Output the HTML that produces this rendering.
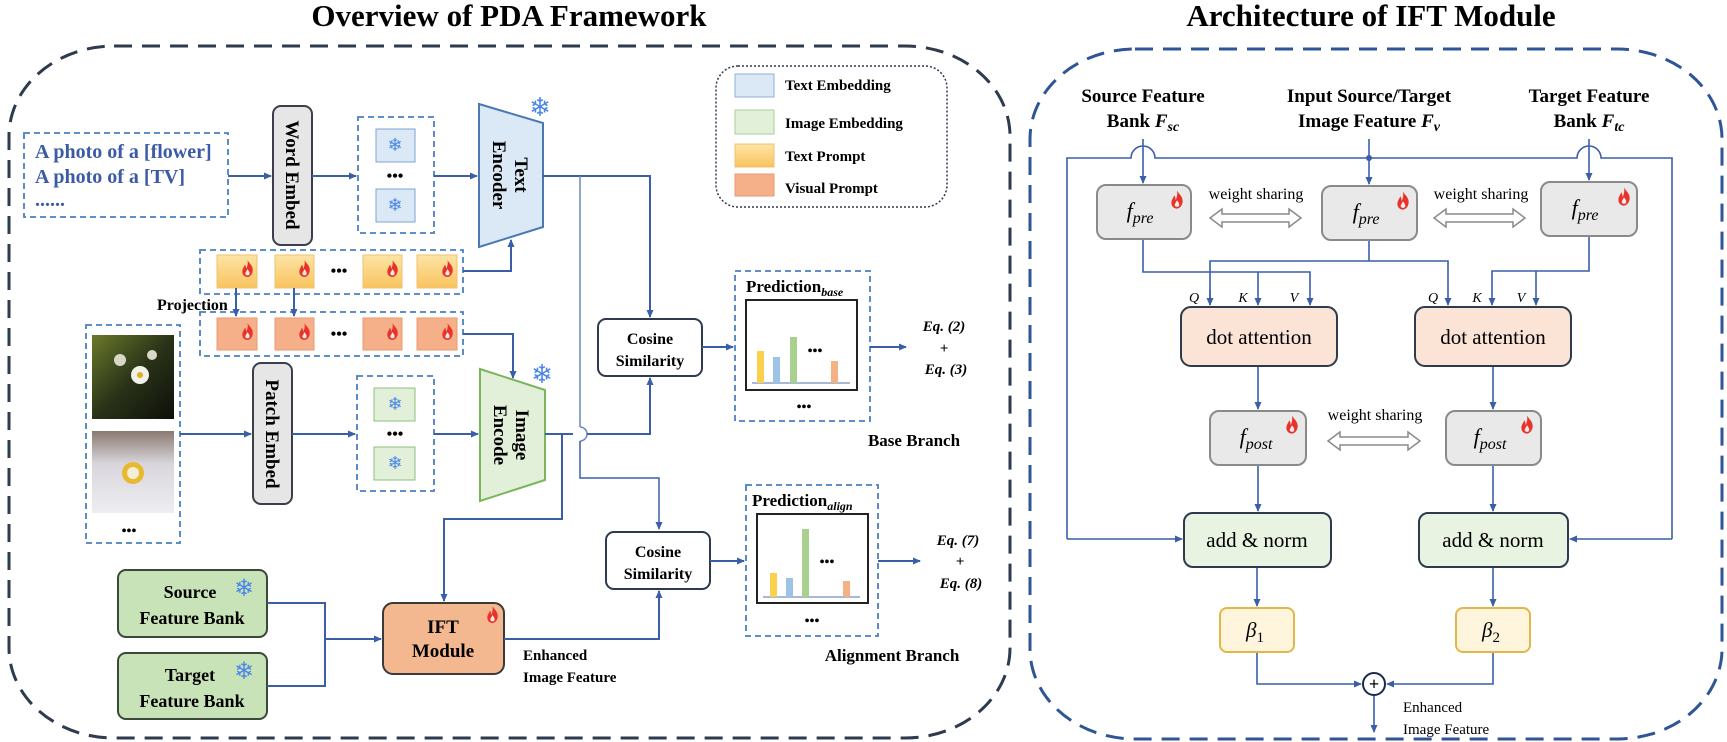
<!DOCTYPE html>
<html><head><meta charset="utf-8"><style>
html,body{margin:0;padding:0;background:#fff;}
svg{display:block;font-family:"Liberation Serif",serif;}
.b{font-weight:bold;}
</style></head><body>
<svg width="1727" height="742" viewBox="0 0 1727 742" xmlns="http://www.w3.org/2000/svg">
<defs>
<marker id="ar" markerWidth="8" markerHeight="8" refX="7" refY="4" orient="auto" markerUnits="userSpaceOnUse"><path d="M0,0.5 L8,4 L0,7.5 z" fill="#3a5fa8"/></marker>
<symbol id="fire" viewBox="0 0 20 26"><path d="M10,0 C13,6 19,9 18,17 C17,23 13,26 10,26 C6,26 2,23 2,18 C2,13 5,11 6,7 C8,10 8,12 8,14 C10,10 11,5 10,0 z" fill="#e8322a"/><path d="M10,14 C12,17 14,19 13,22 C12,24 8,24 7,22 C6,20 8,18 10,14 z" fill="#fff" opacity="0.9"/></symbol>
<linearGradient id="im1" x1="0" y1="0" x2="1" y2="1"><stop offset="0" stop-color="#6b7a2a"/><stop offset="0.5" stop-color="#2a3318"/><stop offset="1" stop-color="#0d0f0a"/></linearGradient>
<linearGradient id="im2" x1="0" y1="0" x2="0" y2="1"><stop offset="0" stop-color="#8a7a70"/><stop offset="0.4" stop-color="#d8d6dc"/><stop offset="1" stop-color="#eeeef2"/></linearGradient>
<linearGradient id="yel" x1="0" y1="0" x2="0" y2="1"><stop offset="0" stop-color="#fde4a6"/><stop offset="1" stop-color="#f9c45e"/></linearGradient>
</defs>

<!-- titles -->
<text x="509" y="26" text-anchor="middle" class="b" font-size="31">Overview of PDA Framework</text>
<text x="1371" y="26" text-anchor="middle" class="b" font-size="31">Architecture of IFT Module</text>

<!-- panels -->
<rect x="9" y="46" width="1001" height="692" rx="105" ry="90" fill="none" stroke="#2e3a4d" stroke-width="3" stroke-dasharray="18,10"/>
<rect x="1030" y="49" width="692" height="690" rx="105" ry="90" fill="none" stroke="#2f5597" stroke-width="3" stroke-dasharray="18,10"/>

<!-- legend -->
<rect x="716" y="66" width="231" height="141" rx="22" fill="none" stroke="#2e3a4d" stroke-width="1.5" stroke-dasharray="2,2"/>
<rect x="735" y="74" width="39" height="23" fill="#dbe8f5" stroke="#8fb0d8"/>
<rect x="735" y="110" width="39" height="24" fill="#e2efd9" stroke="#a8cf95"/>
<rect x="735" y="144" width="39" height="23" fill="url(#yel)" stroke="#f0c070"/>
<rect x="735" y="174" width="39" height="22" fill="#f5b08a" stroke="#e89a70"/>
<g class="b" font-size="15"><text x="785" y="90">Text Embedding</text><text x="785" y="128">Image Embedding</text><text x="785" y="161">Text Prompt</text><text x="785" y="193">Visual Prompt</text></g>

<!-- text input -->
<rect x="24" y="133" width="204" height="84" fill="none" stroke="#4a7fc1" stroke-width="1.8" stroke-dasharray="6,4"/>
<g class="b" font-size="20" fill="#3b5ba5"><text x="35" y="158">A photo of a [flower]</text><text x="35" y="183">A photo of a [TV]</text><text x="35" y="206">......</text></g>

<!-- word embed -->
<rect x="273" y="106" width="39" height="139" rx="8" fill="#e6e6e6" stroke="#3a3f4a" stroke-width="2"/>
<text transform="translate(292,175) rotate(90)" text-anchor="middle" y="6" class="b" font-size="19">Word Embed</text>

<!-- text embedding box -->
<rect x="358" y="117" width="76" height="116" fill="none" stroke="#4a7fc1" stroke-width="1.8" stroke-dasharray="6,4"/>
<rect x="376" y="129" width="39" height="33" fill="#dbe8f5" stroke="#7fa3d0"/>
<rect x="376" y="189" width="39" height="33" fill="#dbe8f5" stroke="#7fa3d0"/>
<text x="395" y="151" text-anchor="middle" font-size="18" fill="#4a86e8">❄</text>
<text x="395" y="211" text-anchor="middle" font-size="18" fill="#4a86e8">❄</text>
<text x="395" y="181" text-anchor="middle" class="b" font-size="16">•••</text>

<!-- text encoder -->
<polygon points="479,104 543,123 543,227 479,247" fill="#dbe8f5" stroke="#4a78b5" stroke-width="2"/>
<text transform="translate(511,175) rotate(90)" text-anchor="middle" class="b" font-size="19"><tspan x="0" y="-4">Text</tspan><tspan x="0" y="18">Encoder</tspan></text>
<text x="540" y="116" text-anchor="middle" font-size="26" fill="#4a86e8">❄</text>

<!-- arrows top row -->
<g stroke="#3a5fa8" stroke-width="2" fill="none">
<line x1="228" y1="176" x2="271" y2="176" marker-end="url(#ar)"/>
<line x1="312" y1="176" x2="356" y2="176" marker-end="url(#ar)"/>
<line x1="434" y1="176" x2="477" y2="176" marker-end="url(#ar)"/>
<polyline points="543,176 650,176 650,317" marker-end="url(#ar)"/>
<polyline points="580,176 580,427" stroke-width="1.5" stroke="#6a88bf"/>
<path d="M580,427 A7,7 0 0 1 580,441" stroke-width="1.5" stroke="#6a88bf"/>
<polyline points="580,441 580,478 659,478 659,529" stroke-width="1.5" marker-end="url(#ar)"/>
</g>

<!-- text prompts -->
<rect x="200" y="250" width="263" height="44" fill="none" stroke="#4a7fc1" stroke-width="1.8" stroke-dasharray="6,4"/>
<g fill="url(#yel)" stroke="#f0c070"><rect x="217" y="255" width="40" height="33"/><rect x="275" y="255" width="39" height="33"/><rect x="363" y="255" width="39" height="33"/><rect x="417" y="255" width="40" height="33"/></g>
<g><use href="#fire" x="241" y="259" width="13" height="19"/><use href="#fire" x="298" y="259" width="13" height="19"/><use href="#fire" x="386" y="259" width="13" height="19"/><use href="#fire" x="441" y="259" width="13" height="19"/></g>
<text x="339" y="276" text-anchor="middle" class="b" font-size="16">•••</text>

<text x="157" y="310" class="b" font-size="16">Projection</text>

<!-- visual prompts -->
<rect x="200" y="312" width="263" height="44" fill="none" stroke="#4a7fc1" stroke-width="1.8" stroke-dasharray="6,4"/>
<g fill="#f5b08a" stroke="#e89a70"><rect x="217" y="318" width="40" height="32"/><rect x="275" y="318" width="39" height="32"/><rect x="363" y="318" width="39" height="32"/><rect x="417" y="318" width="40" height="32"/></g>
<g><use href="#fire" x="241" y="322" width="13" height="19"/><use href="#fire" x="298" y="322" width="13" height="19"/><use href="#fire" x="386" y="322" width="13" height="19"/><use href="#fire" x="441" y="322" width="13" height="19"/></g>
<text x="339" y="339" text-anchor="middle" class="b" font-size="16">•••</text>

<g stroke="#3a5fa8" stroke-width="2" fill="none">
<line x1="236" y1="288" x2="236" y2="316" marker-end="url(#ar)"/>
<line x1="294" y1="288" x2="294" y2="316" marker-end="url(#ar)"/>
<polyline points="463,271 511,271 511,240" marker-end="url(#ar)"/>
<polyline points="463,334 513,334 513,378" marker-end="url(#ar)"/>
</g>

<!-- images -->
<rect x="86" y="325" width="94" height="218" fill="none" stroke="#4a7fc1" stroke-width="1.8" stroke-dasharray="6,4"/>
<rect x="92" y="335" width="82" height="84" fill="url(#im1)"/>
<circle cx="140" cy="375" r="9" fill="#f2f2ea"/><circle cx="140" cy="375" r="3" fill="#e0b020"/>
<circle cx="120" cy="360" r="6" fill="#d8d8c8"/><circle cx="152" cy="355" r="5" fill="#d8d8c8"/>
<rect x="92" y="431" width="82" height="82" fill="url(#im2)"/>
<circle cx="133" cy="473" r="11" fill="#e8b830"/><circle cx="133" cy="473" r="6" fill="#f4f0d8"/>
<text x="129" y="535" text-anchor="middle" class="b" font-size="14">•••</text>

<!-- patch embed -->
<rect x="253" y="363" width="39" height="141" rx="8" fill="#e6e6e6" stroke="#3a3f4a" stroke-width="2"/>
<text transform="translate(272,434) rotate(90)" text-anchor="middle" y="6" class="b" font-size="19">Patch Embed</text>

<rect x="357" y="376" width="77" height="115" fill="none" stroke="#4a7fc1" stroke-width="1.8" stroke-dasharray="6,4"/>
<rect x="374" y="388" width="41" height="33" fill="#e2efd9" stroke="#8cc27a"/>
<rect x="374" y="447" width="41" height="33" fill="#e2efd9" stroke="#8cc27a"/>
<text x="395" y="410" text-anchor="middle" font-size="18" fill="#4a86e8">❄</text>
<text x="395" y="469" text-anchor="middle" font-size="18" fill="#4a86e8">❄</text>
<text x="395" y="439" text-anchor="middle" class="b" font-size="16">•••</text>

<!-- image encoder -->
<polygon points="480,369 545,390 545,480 480,501" fill="#e2efd9" stroke="#7ab55c" stroke-width="2"/>
<text transform="translate(512,435) rotate(90)" text-anchor="middle" class="b" font-size="19"><tspan x="0" y="-4">Image</tspan><tspan x="0" y="18">Encode</tspan></text>
<text x="542" y="383" text-anchor="middle" font-size="26" fill="#4a86e8">❄</text>

<g stroke="#3a5fa8" stroke-width="2" fill="none">
<line x1="180" y1="434" x2="251" y2="434" marker-end="url(#ar)"/>
<line x1="292" y1="434" x2="355" y2="434" marker-end="url(#ar)"/>
<line x1="434" y1="434" x2="478" y2="434" marker-end="url(#ar)"/>
<polyline points="545,434 573,434"/>
<polyline points="587,434 650,434 650,378" marker-end="url(#ar)"/>
<polyline points="562,434 562,519 444,519 444,601" marker-end="url(#ar)"/>
</g>

<!-- cosine boxes -->
<rect x="598" y="319" width="104" height="57" rx="8" fill="#fff" stroke="#2e3a4d" stroke-width="2"/>
<text x="650" y="344" text-anchor="middle" class="b" font-size="16">Cosine</text>
<text x="650" y="366" text-anchor="middle" class="b" font-size="16">Similarity</text>
<rect x="606" y="532" width="104" height="57" rx="8" fill="#fff" stroke="#2e3a4d" stroke-width="2"/>
<text x="658" y="557" text-anchor="middle" class="b" font-size="16">Cosine</text>
<text x="658" y="579" text-anchor="middle" class="b" font-size="16">Similarity</text>

<!-- prediction base -->
<rect x="735" y="271" width="135" height="150" fill="none" stroke="#4a7fc1" stroke-width="1.8" stroke-dasharray="6,4"/>
<text x="746" y="292" class="b" font-size="17">Prediction<tspan font-size="12" font-style="italic" dy="4">base</tspan></text>
<rect x="746" y="300" width="111" height="90" fill="#fff" stroke="#222" stroke-width="2"/>
<line x1="752" y1="383" x2="850" y2="383" stroke="#a8b8d8" stroke-width="2"/>
<rect x="757" y="351" width="7" height="32" fill="#fbd14b"/>
<rect x="773" y="357" width="7" height="26" fill="#9dc3e6"/>
<rect x="790" y="337" width="7" height="46" fill="#a9d18e"/>
<rect x="831" y="361" width="7" height="22" fill="#f4b183"/>
<text x="815" y="355" text-anchor="middle" class="b" font-size="14">•••</text>
<text x="804" y="411" text-anchor="middle" class="b" font-size="14">•••</text>

<!-- prediction align -->
<rect x="746" y="485" width="132" height="151" fill="none" stroke="#4a7fc1" stroke-width="1.8" stroke-dasharray="6,4"/>
<text x="752" y="506" class="b" font-size="17">Prediction<tspan font-size="12" font-style="italic" dy="4">align</tspan></text>
<rect x="757" y="514" width="111" height="89" fill="#fff" stroke="#222" stroke-width="2"/>
<line x1="763" y1="597" x2="860" y2="597" stroke="#a8b8d8" stroke-width="2"/>
<rect x="770" y="573" width="7" height="24" fill="#fbd14b"/>
<rect x="786" y="578" width="7" height="19" fill="#9dc3e6"/>
<rect x="802" y="529" width="7" height="68" fill="#a9d18e"/>
<rect x="843" y="581" width="7" height="16" fill="#f4b183"/>
<text x="827" y="566" text-anchor="middle" class="b" font-size="14">•••</text>
<text x="812" y="625" text-anchor="middle" class="b" font-size="14">•••</text>

<g stroke="#3a5fa8" stroke-width="2" fill="none">
<line x1="702" y1="347" x2="733" y2="347" marker-end="url(#ar)"/>
<line x1="870" y1="347" x2="906" y2="347" marker-end="url(#ar)"/>
<line x1="710" y1="561" x2="744" y2="561" marker-end="url(#ar)"/>
<line x1="878" y1="561" x2="920" y2="561" marker-end="url(#ar)"/>
</g>
<g class="b" font-style="italic" font-size="15" text-anchor="middle">
<text x="944" y="331">Eq. (2)</text><text x="944" y="353">+</text><text x="946" y="374">Eq. (3)</text>
<text x="958" y="545">Eq. (7)</text><text x="960" y="566">+</text><text x="961" y="588">Eq. (8)</text>
</g>
<text x="914" y="446" text-anchor="middle" class="b" font-size="17">Base Branch</text>
<text x="892" y="661" text-anchor="middle" class="b" font-size="17">Alignment Branch</text>

<!-- feature banks -->
<rect x="118" y="570" width="149" height="67" rx="8" fill="#c9e3b8" stroke="#3a4a3a" stroke-width="2"/>
<text x="190" y="598" text-anchor="middle" class="b" font-size="18">Source</text>
<text x="192" y="624" text-anchor="middle" class="b" font-size="18">Feature Bank</text>
<text x="244" y="596" text-anchor="middle" font-size="24" fill="#4a86e8">❄</text>
<rect x="118" y="653" width="149" height="66" rx="8" fill="#c9e3b8" stroke="#3a4a3a" stroke-width="2"/>
<text x="190" y="681" text-anchor="middle" class="b" font-size="18">Target</text>
<text x="192" y="707" text-anchor="middle" class="b" font-size="18">Feature Bank</text>
<text x="244" y="679" text-anchor="middle" font-size="24" fill="#4a86e8">❄</text>

<rect x="383" y="603" width="121" height="71" rx="10" fill="#f4b890" stroke="#3a3a3a" stroke-width="2"/>
<text x="443" y="633" text-anchor="middle" class="b" font-size="19">IFT</text>
<text x="443" y="657" text-anchor="middle" class="b" font-size="19">Module</text>
<use href="#fire" x="486" y="605" width="13" height="19"/>

<g stroke="#3a5fa8" stroke-width="2" fill="none">
<polyline points="267,603 325,603 325,686 267,686"/>
<line x1="325" y1="639" x2="381" y2="639" marker-end="url(#ar)"/>
<polyline points="504,639 659,639 659,591" marker-end="url(#ar)"/>
</g>
<text x="523" y="660" class="b" font-size="15">Enhanced</text>
<text x="523" y="682" class="b" font-size="15">Image Feature</text>

<!-- ===== right panel ===== -->
<g class="b" font-size="19" text-anchor="middle">
<text x="1143" y="102">Source Feature</text>
<text x="1143" y="127">Bank <tspan font-style="italic">F</tspan><tspan font-style="italic" font-size="14" dy="4">sc</tspan></text>
<text x="1369" y="102">Input Source/Target</text>
<text x="1369" y="127">Image Feature <tspan font-style="italic">F</tspan><tspan font-style="italic" font-size="14" dy="4">v</tspan></text>
<text x="1589" y="102">Target Feature</text>
<text x="1589" y="127">Bank <tspan font-style="italic">F</tspan><tspan font-style="italic" font-size="14" dy="4">tc</tspan></text>
</g>

<g stroke="#3a5fa8" stroke-width="1.6" fill="none">
<path d="M1067,539 L1067,158 L1131,158 A12,12 0 0 1 1155,158 L1577,158 A12,12 0 0 1 1601,158 L1672,158 L1672,539"/>
<line x1="1143" y1="139" x2="1143" y2="183" marker-end="url(#ar)"/>
<line x1="1369" y1="139" x2="1369" y2="184" marker-end="url(#ar)"/>
<line x1="1589" y1="139" x2="1589" y2="180" marker-end="url(#ar)"/>
<line x1="1067" y1="539" x2="1182" y2="539" marker-end="url(#ar)"/>
<line x1="1672" y1="539" x2="1570" y2="539" marker-end="url(#ar)"/>
<polyline points="1143,239 1143,272 1310,272 1310,305" marker-end="url(#ar)"/>
<line x1="1258" y1="272" x2="1258" y2="305" marker-end="url(#ar)"/>
<polyline points="1369,240 1369,261"/>
<polyline points="1210,305 1210,261 1448,261 1448,305" marker-end="url(#ar)"/>
<line x1="1210" y1="290" x2="1210" y2="305" marker-end="url(#ar)"/>
<polyline points="1589,236 1589,271 1492,271 1492,305" marker-end="url(#ar)"/>
<line x1="1536" y1="271" x2="1536" y2="305" marker-end="url(#ar)"/>
<line x1="1258" y1="366" x2="1258" y2="409" marker-end="url(#ar)"/>
<line x1="1493" y1="366" x2="1493" y2="409" marker-end="url(#ar)"/>
<line x1="1258" y1="465" x2="1258" y2="511" marker-end="url(#ar)"/>
<line x1="1493" y1="465" x2="1493" y2="511" marker-end="url(#ar)"/>
<line x1="1257" y1="567" x2="1257" y2="606" marker-end="url(#ar)"/>
<line x1="1493" y1="567" x2="1493" y2="606" marker-end="url(#ar)"/>
<polyline points="1257,652 1257,684 1361,684" marker-end="url(#ar)"/>
<polyline points="1493,652 1493,684 1387,684" marker-end="url(#ar)"/>
<line x1="1374" y1="695" x2="1374" y2="732" marker-end="url(#ar)"/>
</g>
<circle cx="1369" cy="158" r="3" fill="#3a5fa8"/>

<!-- f_pre -->
<g fill="#e9e9e9" stroke="#8a8a8a" stroke-width="2">
<rect x="1097" y="185" width="94" height="54" rx="9"/>
<rect x="1322" y="186" width="95" height="54" rx="9"/>
<rect x="1541" y="182" width="96" height="54" rx="9"/>
<rect x="1210" y="411" width="96" height="54" rx="9"/>
<rect x="1446" y="411" width="95" height="54" rx="9"/>
</g>
<g font-style="italic" font-size="22" text-anchor="middle">
<text x="1140" y="218">f<tspan font-size="16" dy="5">pre</tspan></text>
<text x="1366" y="219">f<tspan font-size="16" dy="5">pre</tspan></text>
<text x="1585" y="215">f<tspan font-size="16" dy="5">pre</tspan></text>
<text x="1256" y="444">f<tspan font-size="16" dy="5">post</tspan></text>
<text x="1490" y="444">f<tspan font-size="16" dy="5">post</tspan></text>
</g>
<use href="#fire" x="1170" y="189" width="14" height="21"/>
<use href="#fire" x="1396" y="190" width="14" height="21"/>
<use href="#fire" x="1617" y="186" width="14" height="21"/>
<use href="#fire" x="1285" y="414" width="14" height="21"/>
<use href="#fire" x="1520" y="414" width="14" height="21"/>

<!-- weight sharing -->
<g font-size="16" text-anchor="middle">
<text x="1256" y="199">weight sharing</text>
<text x="1481" y="199">weight sharing</text>
<text x="1375" y="420">weight sharing</text>
</g>
<g fill="#fff" stroke="#8a8a8a" stroke-width="1.5">
<path d="M1210,218 L1222,209 L1222,214 L1289,214 L1289,209 L1301,218 L1289,227 L1289,222 L1222,222 L1222,227 z"/>
<path d="M1434,218 L1446,209 L1446,214 L1513,214 L1513,209 L1525,218 L1513,227 L1513,222 L1446,222 L1446,227 z"/>
<path d="M1328,441 L1340,432 L1340,437 L1408,437 L1408,432 L1420,441 L1408,450 L1408,445 L1340,445 L1340,450 z"/>
</g>

<!-- QKV -->
<g font-style="italic" font-size="14" text-anchor="middle">
<text x="1194" y="302">Q</text><text x="1243" y="302">K</text><text x="1294" y="302">V</text>
<text x="1433" y="302">Q</text><text x="1477" y="302">K</text><text x="1521" y="302">V</text>
</g>

<!-- dot attention -->
<rect x="1181" y="307" width="156" height="59" rx="10" fill="#fbe3d6" stroke="#2e3a4d" stroke-width="2"/>
<rect x="1415" y="307" width="156" height="59" rx="10" fill="#fbe3d6" stroke="#2e3a4d" stroke-width="2"/>
<text x="1259" y="344" text-anchor="middle" font-size="21">dot attention</text>
<text x="1493" y="344" text-anchor="middle" font-size="21">dot attention</text>

<!-- add & norm -->
<rect x="1184" y="513" width="147" height="54" rx="9" fill="#e9f3e2" stroke="#2e3a4d" stroke-width="2"/>
<rect x="1419" y="513" width="149" height="54" rx="9" fill="#e9f3e2" stroke="#2e3a4d" stroke-width="2"/>
<text x="1257" y="547" text-anchor="middle" font-size="21">add &amp; norm</text>
<text x="1493" y="547" text-anchor="middle" font-size="21">add &amp; norm</text>

<!-- betas -->
<rect x="1220" y="608" width="74" height="44" rx="7" fill="#fff5dc" stroke="#e0b84a" stroke-width="2"/>
<rect x="1456" y="608" width="74" height="44" rx="7" fill="#fff5dc" stroke="#e0b84a" stroke-width="2"/>
<text x="1255" y="637" text-anchor="middle" font-style="italic" font-size="21">β<tspan font-style="normal" font-size="15" dy="5">1</tspan></text>
<text x="1491" y="637" text-anchor="middle" font-style="italic" font-size="21">β<tspan font-style="normal" font-size="15" dy="5">2</tspan></text>

<circle cx="1374" cy="684" r="11" fill="#fff" stroke="#1a2a4a" stroke-width="2"/>
<text x="1374" y="690" text-anchor="middle" class="b" font-size="18">+</text>
<text x="1403" y="712" font-size="15">Enhanced</text>
<text x="1403" y="734" font-size="15">Image Feature</text>
</svg>
</body></html>
